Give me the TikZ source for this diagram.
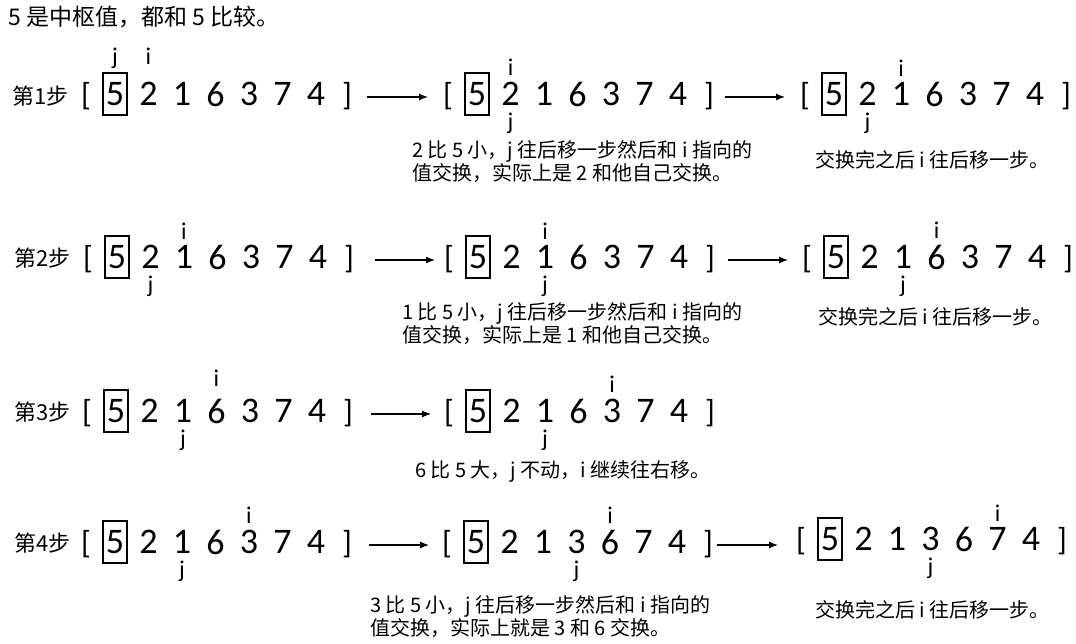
\documentclass[tikz,border=0pt]{standalone}
\usepackage{fontspec}
\setmainfont{Carlito}
\newfontfamily\cjk{Noto Sans CJK SC}
\usetikzlibrary{positioning,arrows.meta}
\tikzset{
  dig/.style={font=\fontsize{36}{36}\selectfont, inner sep=0pt},
  brk/.style={font=\fontsize{32}{32}\selectfont, inner sep=0pt},
  pivot/.style={draw, line width=2.8pt, minimum width=24pt, minimum height=42pt, inner sep=0pt},
  ptr/.style={font=\fontsize{24}{24}\selectfont, inner sep=0pt},
  note/.style={font=\cjk\fontsize{20}{23}\selectfont, inner sep=0pt, align=left, anchor=west},
  steplbl/.style={font=\cjk\fontsize{22}{22}\selectfont, inner sep=0pt, anchor=west},
  go/.style={-{Latex[length=9pt,width=7pt]}, line width=1.2pt},
}
\begin{document}
\begin{tikzpicture}[x=1pt,y=-1pt]
  \useasboundingbox (0,0) rectangle (1076,644);
  \node[steplbl, font=\cjk\fontsize{23}{23}\selectfont] (title) at (8,17) {5 是中枢值，都和 5 比较。};
  \draw
    (12,96) node[steplbl] (st1){第1步}
    (14,258) node[steplbl] (st2){第2步}
    (14,412) node[steplbl] (st3){第3步}
    (14,543) node[steplbl] (st4){第4步};
  % the arrays
  \foreach \nm/\xf/\yr/\seq in {
      s1a/115/94/{5,2,1,6,3,7,4}, s1b/477/94/{5,2,1,6,3,7,4}, s1c/834/94/{5,2,1,6,3,7,4},
      s2a/117/257/{5,2,1,6,3,7,4}, s2b/478/257/{5,2,1,6,3,7,4}, s2c/836/257/{5,2,1,6,3,7,4},
      s3a/116/411/{5,2,1,6,3,7,4}, s3b/478/411/{5,2,1,6,3,7,4},
      s4a/115/542/{5,2,1,6,3,7,4}, s4b/476/542/{5,2,1,3,6,7,4}, s4c/830/539/{5,2,1,3,6,7,4}} {
    \node[brk] (\nm-l) at (\xf-29,\yr+2.5) {[};
    \node[brk] (\nm-r) at (\xf+232,\yr+2.5) {]};
    \foreach \d [count=\k from 0] in \seq
      \node[dig] (\nm-\k) at (\xf+33.5*\k,\yr) {\d};
    \node[pivot] (\nm-b) at (\nm-0) {};
  }
  % i and j
  \node[ptr, above=3pt of s1a-b] (s1a-j) {j};
  \node[ptr, anchor=base] (s1a-i) at (s1a-1 |- s1a-j.base) {i};
  \foreach \nm/\ki/\kj/\gap in {s1b/1/1/6, s1c/2/1/6, s2a/2/1/6, s2b/2/2/6, s2c/3/2/6,
      s3a/3/2/12, s3b/4/2/6, s4a/4/2/6, s4b/4/3/6, s4c/5/3/6} {
    \node[ptr, above=\gap pt of \nm-\ki] (\nm-i) {i};
    \node[ptr, below=7pt of \nm-\kj] (\nm-j) {j};
  }
  % arrows
  \draw
    (367,97) coordinate (g1a) (428,97) coordinate (g1b)
    (725,97) coordinate (g1c) (785,97) coordinate (g1d)
    (375,260) coordinate (g2a) (435,260) coordinate (g2b)
    (728,260) coordinate (g2c) (788,260) coordinate (g2d)
    (371,414) coordinate (g3a) (431,414) coordinate (g3b)
    (369,545) coordinate (g4a) (429,545) coordinate (g4b)
    (717,545) coordinate (g4c) (778,545) coordinate (g4d);
  \begin{scope}[go]
    \draw (g1a) to (g1b);
    \draw (g1c) to (g1d);
    \draw (g2a) to (g2b);
    \draw (g2c) to (g2d);
    \draw (g3a) to (g3b);
    \draw (g4a) to (g4b);
    \draw (g4c) to (g4d);
  \end{scope}
  % notes
  \node[note] (n1) at (412,162) {2 比 5 小，j 往后移一步然后和 i 指向的\\值交换，实际上是 2 和他自己交换。};
  \node[note] (d1) at (815,160) {交换完之后 i 往后移一步。};
  \node[note] (n2) at (402,324) {1 比 5 小，j 往后移一步然后和 i 指向的\\值交换，实际上是 1 和他自己交换。};
  \node[note] (d2) at (818,317) {交换完之后 i 往后移一步。};
  \node[note] (n3) at (415,471) {6 比 5 大，j 不动，i 继续往右移。};
  \node[note] (n4) at (370,617) {3 比 5 小，j 往后移一步然后和 i 指向的\\值交换，实际上就是 3 和 6 交换。};
  \node[note] (d4) at (815,610) {交换完之后 i 往后移一步。};
\end{tikzpicture}
\end{document}
